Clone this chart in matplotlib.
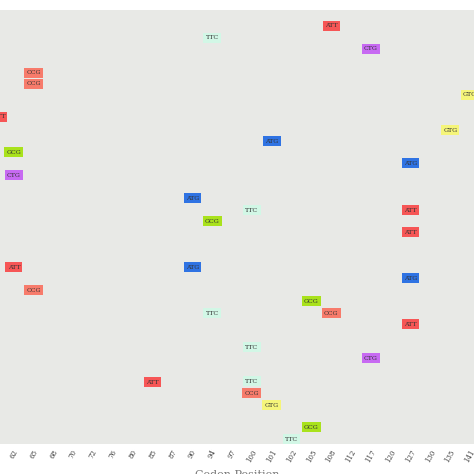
import matplotlib
matplotlib.use("Agg")
import matplotlib.pyplot as plt

positions = [62, 65, 68, 70, 72, 76, 80, 85, 87, 90, 94, 97, 100, 101, 102, 105,
             108, 112, 117, 120, 127, 130, 135, 141]

# (codon, position index, row value)
codons = ["TTC", "ATT", "CTG", "CCG", "CCG", "GTG", "ATT", "GTG", "ATG", "GCG",
          "ATG", "CTG", "ATG", "TTC", "ATT", "GCG", "ATT", "ATT", "ATG", "ATG",
          "CCG", "GCG", "CCG", "TTC", "ATT", "TTC", "CTG", "ATT", "TTC", "CCG",
          "GTG", "GCG", "TTC"]
xidx = [10, 16, 18, 1, 1, 23, -0.75, 22, 13, 0,
        20, 0, 9, 12, 20, 10, 20, 0, 9, 20,
        1, 15, 16, 10, 20, 12, 18, 7, 12, 12,
        13, 15, 14]
rows = [406, 418, 395, 371, 360, 349, 327, 314, 303, 292,
        281, 269, 246, 234, 234, 223, 212, 177, 177, 166,
        154, 143, 131, 131, 120, 97, 86, 62, 63, 51,
        39, 17, 5]

colors = {"ATT": "#f65656", "CTG": "#c76af2", "CCG": "#f77b6b", "GTG": "#f5f57a",
          "TTC": "#d2f7e6", "ATG": "#2f73e3", "GCG": "#a9e21c"}

fig = plt.figure(figsize=(4.74, 4.74), dpi=100)
ax = fig.add_axes([0, 0.063, 1, 0.916])
ax.set_facecolor("#e8e9e6")
for c, x, y in zip(codons, xidx, rows):
    ax.text(x, y, c, fontsize=4.5, family="DejaVu Serif", ha="center", va="center",
            color="#333333",
            bbox=dict(boxstyle="square,pad=0.35", fc=colors[c], ec="none"))

ax.set_xlim(-0.7, 23.2)
ax.set_ylim(0, 434)
ax.set_xticks(range(len(positions)))
ax.set_xticklabels(positions, rotation=60, fontsize=5, family="DejaVu Serif", color="#444444")
ax.set_yticks([])
ax.tick_params(axis="x", length=0, pad=3)
for s in ax.spines.values():
    s.set_visible(False)
ax.set_xlabel("Codon Position", fontsize=8, family="DejaVu Serif", color="#777777", labelpad=4)
fig.savefig("out.png", dpi=100)
